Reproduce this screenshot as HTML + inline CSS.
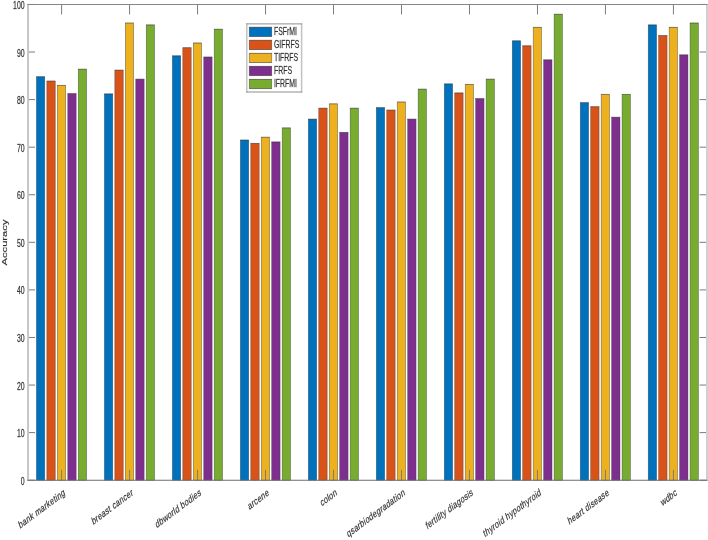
<!DOCTYPE html>
<html><head><meta charset="utf-8"><title>Accuracy</title>
<style>html,body{margin:0;padding:0;background:#fff}svg{display:block}</style></head>
<body>
<svg width="708" height="540" viewBox="0 0 708 540" font-family="Liberation Sans, Arial, Helvetica, sans-serif">
<rect width="708" height="540" fill="#fff"/>
<rect x="36.40" y="76.76" width="8.37" height="403.44" fill="#0072BD" stroke="#3a3a3a" stroke-opacity="0.7" stroke-width="0.55"/>
<path d="M36.20 76.76h8.77" stroke="#222" stroke-opacity="0.35" stroke-width="0.7"/>
<rect x="46.86" y="81.05" width="8.37" height="399.15" fill="#D95319" stroke="#3a3a3a" stroke-opacity="0.7" stroke-width="0.55"/>
<path d="M46.66 81.05h8.77" stroke="#222" stroke-opacity="0.35" stroke-width="0.7"/>
<rect x="57.32" y="85.33" width="8.37" height="394.87" fill="#EDB120" stroke="#3a3a3a" stroke-opacity="0.7" stroke-width="0.55"/>
<path d="M57.12 85.33h8.77" stroke="#222" stroke-opacity="0.35" stroke-width="0.7"/>
<rect x="67.78" y="93.65" width="8.37" height="386.55" fill="#7E2F8E" stroke="#3a3a3a" stroke-opacity="0.7" stroke-width="0.55"/>
<path d="M67.58 93.65h8.77" stroke="#222" stroke-opacity="0.35" stroke-width="0.7"/>
<rect x="78.23" y="69.15" width="8.37" height="411.05" fill="#77AC30" stroke="#3a3a3a" stroke-opacity="0.7" stroke-width="0.55"/>
<path d="M78.03 69.15h8.77" stroke="#222" stroke-opacity="0.35" stroke-width="0.7"/>
<rect x="104.38" y="93.89" width="8.37" height="386.31" fill="#0072BD" stroke="#3a3a3a" stroke-opacity="0.7" stroke-width="0.55"/>
<path d="M104.18 93.89h8.77" stroke="#222" stroke-opacity="0.35" stroke-width="0.7"/>
<rect x="114.84" y="70.10" width="8.37" height="410.10" fill="#D95319" stroke="#3a3a3a" stroke-opacity="0.7" stroke-width="0.55"/>
<path d="M114.64 70.10h8.77" stroke="#222" stroke-opacity="0.35" stroke-width="0.7"/>
<rect x="125.30" y="23.00" width="8.37" height="457.20" fill="#EDB120" stroke="#3a3a3a" stroke-opacity="0.7" stroke-width="0.55"/>
<path d="M125.10 23.00h8.77" stroke="#222" stroke-opacity="0.35" stroke-width="0.7"/>
<rect x="135.76" y="79.14" width="8.37" height="401.06" fill="#7E2F8E" stroke="#3a3a3a" stroke-opacity="0.7" stroke-width="0.55"/>
<path d="M135.56 79.14h8.77" stroke="#222" stroke-opacity="0.35" stroke-width="0.7"/>
<rect x="146.21" y="24.91" width="8.37" height="455.29" fill="#77AC30" stroke="#3a3a3a" stroke-opacity="0.7" stroke-width="0.55"/>
<path d="M146.01 24.91h8.77" stroke="#222" stroke-opacity="0.35" stroke-width="0.7"/>
<rect x="172.36" y="55.83" width="8.37" height="424.37" fill="#0072BD" stroke="#3a3a3a" stroke-opacity="0.7" stroke-width="0.55"/>
<path d="M172.16 55.83h8.77" stroke="#222" stroke-opacity="0.35" stroke-width="0.7"/>
<rect x="182.82" y="47.74" width="8.37" height="432.46" fill="#D95319" stroke="#3a3a3a" stroke-opacity="0.7" stroke-width="0.55"/>
<path d="M182.62 47.74h8.77" stroke="#222" stroke-opacity="0.35" stroke-width="0.7"/>
<rect x="193.28" y="42.99" width="8.37" height="437.21" fill="#EDB120" stroke="#3a3a3a" stroke-opacity="0.7" stroke-width="0.55"/>
<path d="M193.08 42.99h8.77" stroke="#222" stroke-opacity="0.35" stroke-width="0.7"/>
<rect x="203.74" y="57.02" width="8.37" height="423.18" fill="#7E2F8E" stroke="#3a3a3a" stroke-opacity="0.7" stroke-width="0.55"/>
<path d="M203.54 57.02h8.77" stroke="#222" stroke-opacity="0.35" stroke-width="0.7"/>
<rect x="214.19" y="29.19" width="8.37" height="451.01" fill="#77AC30" stroke="#3a3a3a" stroke-opacity="0.7" stroke-width="0.55"/>
<path d="M213.99 29.19h8.77" stroke="#222" stroke-opacity="0.35" stroke-width="0.7"/>
<rect x="240.34" y="140.04" width="8.37" height="340.16" fill="#0072BD" stroke="#3a3a3a" stroke-opacity="0.7" stroke-width="0.55"/>
<path d="M240.14 140.04h8.77" stroke="#222" stroke-opacity="0.35" stroke-width="0.7"/>
<rect x="250.80" y="143.37" width="8.37" height="336.83" fill="#D95319" stroke="#3a3a3a" stroke-opacity="0.7" stroke-width="0.55"/>
<path d="M250.60 143.37h8.77" stroke="#222" stroke-opacity="0.35" stroke-width="0.7"/>
<rect x="261.26" y="137.18" width="8.37" height="343.02" fill="#EDB120" stroke="#3a3a3a" stroke-opacity="0.7" stroke-width="0.55"/>
<path d="M261.06 137.18h8.77" stroke="#222" stroke-opacity="0.35" stroke-width="0.7"/>
<rect x="271.72" y="141.94" width="8.37" height="338.26" fill="#7E2F8E" stroke="#3a3a3a" stroke-opacity="0.7" stroke-width="0.55"/>
<path d="M271.52 141.94h8.77" stroke="#222" stroke-opacity="0.35" stroke-width="0.7"/>
<rect x="282.17" y="127.91" width="8.37" height="352.29" fill="#77AC30" stroke="#3a3a3a" stroke-opacity="0.7" stroke-width="0.55"/>
<path d="M281.97 127.91h8.77" stroke="#222" stroke-opacity="0.35" stroke-width="0.7"/>
<rect x="308.32" y="119.11" width="8.37" height="361.09" fill="#0072BD" stroke="#3a3a3a" stroke-opacity="0.7" stroke-width="0.55"/>
<path d="M308.12 119.11h8.77" stroke="#222" stroke-opacity="0.35" stroke-width="0.7"/>
<rect x="318.78" y="108.16" width="8.37" height="372.04" fill="#D95319" stroke="#3a3a3a" stroke-opacity="0.7" stroke-width="0.55"/>
<path d="M318.58 108.16h8.77" stroke="#222" stroke-opacity="0.35" stroke-width="0.7"/>
<rect x="329.24" y="103.88" width="8.37" height="376.32" fill="#EDB120" stroke="#3a3a3a" stroke-opacity="0.7" stroke-width="0.55"/>
<path d="M329.04 103.88h8.77" stroke="#222" stroke-opacity="0.35" stroke-width="0.7"/>
<rect x="339.70" y="132.43" width="8.37" height="347.77" fill="#7E2F8E" stroke="#3a3a3a" stroke-opacity="0.7" stroke-width="0.55"/>
<path d="M339.50 132.43h8.77" stroke="#222" stroke-opacity="0.35" stroke-width="0.7"/>
<rect x="350.15" y="108.16" width="8.37" height="372.04" fill="#77AC30" stroke="#3a3a3a" stroke-opacity="0.7" stroke-width="0.55"/>
<path d="M349.95 108.16h8.77" stroke="#222" stroke-opacity="0.35" stroke-width="0.7"/>
<rect x="376.30" y="107.69" width="8.37" height="372.51" fill="#0072BD" stroke="#3a3a3a" stroke-opacity="0.7" stroke-width="0.55"/>
<path d="M376.10 107.69h8.77" stroke="#222" stroke-opacity="0.35" stroke-width="0.7"/>
<rect x="386.76" y="110.07" width="8.37" height="370.13" fill="#D95319" stroke="#3a3a3a" stroke-opacity="0.7" stroke-width="0.55"/>
<path d="M386.56 110.07h8.77" stroke="#222" stroke-opacity="0.35" stroke-width="0.7"/>
<rect x="397.22" y="101.98" width="8.37" height="378.22" fill="#EDB120" stroke="#3a3a3a" stroke-opacity="0.7" stroke-width="0.55"/>
<path d="M397.02 101.98h8.77" stroke="#222" stroke-opacity="0.35" stroke-width="0.7"/>
<rect x="407.68" y="119.11" width="8.37" height="361.09" fill="#7E2F8E" stroke="#3a3a3a" stroke-opacity="0.7" stroke-width="0.55"/>
<path d="M407.48 119.11h8.77" stroke="#222" stroke-opacity="0.35" stroke-width="0.7"/>
<rect x="418.13" y="89.13" width="8.37" height="391.07" fill="#77AC30" stroke="#3a3a3a" stroke-opacity="0.7" stroke-width="0.55"/>
<path d="M417.93 89.13h8.77" stroke="#222" stroke-opacity="0.35" stroke-width="0.7"/>
<rect x="444.28" y="83.90" width="8.37" height="396.30" fill="#0072BD" stroke="#3a3a3a" stroke-opacity="0.7" stroke-width="0.55"/>
<path d="M444.08 83.90h8.77" stroke="#222" stroke-opacity="0.35" stroke-width="0.7"/>
<rect x="454.74" y="92.94" width="8.37" height="387.26" fill="#D95319" stroke="#3a3a3a" stroke-opacity="0.7" stroke-width="0.55"/>
<path d="M454.54 92.94h8.77" stroke="#222" stroke-opacity="0.35" stroke-width="0.7"/>
<rect x="465.20" y="84.38" width="8.37" height="395.82" fill="#EDB120" stroke="#3a3a3a" stroke-opacity="0.7" stroke-width="0.55"/>
<path d="M465.00 84.38h8.77" stroke="#222" stroke-opacity="0.35" stroke-width="0.7"/>
<rect x="475.66" y="98.65" width="8.37" height="381.55" fill="#7E2F8E" stroke="#3a3a3a" stroke-opacity="0.7" stroke-width="0.55"/>
<path d="M475.46 98.65h8.77" stroke="#222" stroke-opacity="0.35" stroke-width="0.7"/>
<rect x="486.11" y="79.14" width="8.37" height="401.06" fill="#77AC30" stroke="#3a3a3a" stroke-opacity="0.7" stroke-width="0.55"/>
<path d="M485.91 79.14h8.77" stroke="#222" stroke-opacity="0.35" stroke-width="0.7"/>
<rect x="512.26" y="40.84" width="8.37" height="439.36" fill="#0072BD" stroke="#3a3a3a" stroke-opacity="0.7" stroke-width="0.55"/>
<path d="M512.06 40.84h8.77" stroke="#222" stroke-opacity="0.35" stroke-width="0.7"/>
<rect x="522.72" y="45.84" width="8.37" height="434.36" fill="#D95319" stroke="#3a3a3a" stroke-opacity="0.7" stroke-width="0.55"/>
<path d="M522.52 45.84h8.77" stroke="#222" stroke-opacity="0.35" stroke-width="0.7"/>
<rect x="533.18" y="27.29" width="8.37" height="452.91" fill="#EDB120" stroke="#3a3a3a" stroke-opacity="0.7" stroke-width="0.55"/>
<path d="M532.98 27.29h8.77" stroke="#222" stroke-opacity="0.35" stroke-width="0.7"/>
<rect x="543.64" y="59.87" width="8.37" height="420.33" fill="#7E2F8E" stroke="#3a3a3a" stroke-opacity="0.7" stroke-width="0.55"/>
<path d="M543.44 59.87h8.77" stroke="#222" stroke-opacity="0.35" stroke-width="0.7"/>
<rect x="554.09" y="14.20" width="8.37" height="466.00" fill="#77AC30" stroke="#3a3a3a" stroke-opacity="0.7" stroke-width="0.55"/>
<path d="M553.89 14.20h8.77" stroke="#222" stroke-opacity="0.35" stroke-width="0.7"/>
<rect x="580.24" y="102.69" width="8.37" height="377.51" fill="#0072BD" stroke="#3a3a3a" stroke-opacity="0.7" stroke-width="0.55"/>
<path d="M580.04 102.69h8.77" stroke="#222" stroke-opacity="0.35" stroke-width="0.7"/>
<rect x="590.70" y="106.74" width="8.37" height="373.46" fill="#D95319" stroke="#3a3a3a" stroke-opacity="0.7" stroke-width="0.55"/>
<path d="M590.50 106.74h8.77" stroke="#222" stroke-opacity="0.35" stroke-width="0.7"/>
<rect x="601.16" y="94.37" width="8.37" height="385.83" fill="#EDB120" stroke="#3a3a3a" stroke-opacity="0.7" stroke-width="0.55"/>
<path d="M600.96 94.37h8.77" stroke="#222" stroke-opacity="0.35" stroke-width="0.7"/>
<rect x="611.62" y="117.20" width="8.37" height="363.00" fill="#7E2F8E" stroke="#3a3a3a" stroke-opacity="0.7" stroke-width="0.55"/>
<path d="M611.42 117.20h8.77" stroke="#222" stroke-opacity="0.35" stroke-width="0.7"/>
<rect x="622.07" y="94.37" width="8.37" height="385.83" fill="#77AC30" stroke="#3a3a3a" stroke-opacity="0.7" stroke-width="0.55"/>
<path d="M621.87 94.37h8.77" stroke="#222" stroke-opacity="0.35" stroke-width="0.7"/>
<rect x="648.22" y="24.91" width="8.37" height="455.29" fill="#0072BD" stroke="#3a3a3a" stroke-opacity="0.7" stroke-width="0.55"/>
<path d="M648.02 24.91h8.77" stroke="#222" stroke-opacity="0.35" stroke-width="0.7"/>
<rect x="658.68" y="35.61" width="8.37" height="444.59" fill="#D95319" stroke="#3a3a3a" stroke-opacity="0.7" stroke-width="0.55"/>
<path d="M658.48 35.61h8.77" stroke="#222" stroke-opacity="0.35" stroke-width="0.7"/>
<rect x="669.14" y="27.29" width="8.37" height="452.91" fill="#EDB120" stroke="#3a3a3a" stroke-opacity="0.7" stroke-width="0.55"/>
<path d="M668.94 27.29h8.77" stroke="#222" stroke-opacity="0.35" stroke-width="0.7"/>
<rect x="679.60" y="54.88" width="8.37" height="425.32" fill="#7E2F8E" stroke="#3a3a3a" stroke-opacity="0.7" stroke-width="0.55"/>
<path d="M679.40 54.88h8.77" stroke="#222" stroke-opacity="0.35" stroke-width="0.7"/>
<rect x="690.05" y="23.00" width="8.37" height="457.20" fill="#77AC30" stroke="#3a3a3a" stroke-opacity="0.7" stroke-width="0.55"/>
<path d="M689.85 23.00h8.77" stroke="#222" stroke-opacity="0.35" stroke-width="0.7"/>
<g fill="none">
<path d="M61.60 480.2v-10.4M61.60 4.45v10.0" stroke="#7c7c7c" stroke-width="1"/>
<path d="M129.58 480.2v-10.4M129.58 4.45v10.0" stroke="#7c7c7c" stroke-width="1"/>
<path d="M197.56 480.2v-10.4M197.56 4.45v10.0" stroke="#7c7c7c" stroke-width="1"/>
<path d="M265.54 480.2v-10.4M265.54 4.45v10.0" stroke="#7c7c7c" stroke-width="1"/>
<path d="M333.52 480.2v-10.4M333.52 4.45v10.0" stroke="#7c7c7c" stroke-width="1"/>
<path d="M401.50 480.2v-10.4M401.50 4.45v10.0" stroke="#7c7c7c" stroke-width="1"/>
<path d="M469.48 480.2v-10.4M469.48 4.45v10.0" stroke="#7c7c7c" stroke-width="1"/>
<path d="M537.46 480.2v-10.4M537.46 4.45v10.0" stroke="#7c7c7c" stroke-width="1"/>
<path d="M605.44 480.2v-10.4M605.44 4.45v10.0" stroke="#7c7c7c" stroke-width="1"/>
<path d="M673.42 480.2v-10.4M673.42 4.45v10.0" stroke="#7c7c7c" stroke-width="1"/>
<path d="M28 480.20h7.0M706.6 480.20h-7.0" stroke="#7a7a7a" stroke-width="1"/>
<path d="M28 432.62h7.0M706.6 432.62h-7.0" stroke="#7a7a7a" stroke-width="1"/>
<path d="M28 385.05h7.0M706.6 385.05h-7.0" stroke="#7a7a7a" stroke-width="1"/>
<path d="M28 337.48h7.0M706.6 337.48h-7.0" stroke="#7a7a7a" stroke-width="1"/>
<path d="M28 289.90h7.0M706.6 289.90h-7.0" stroke="#7a7a7a" stroke-width="1"/>
<path d="M28 242.32h7.0M706.6 242.32h-7.0" stroke="#7a7a7a" stroke-width="1"/>
<path d="M28 194.75h7.0M706.6 194.75h-7.0" stroke="#7a7a7a" stroke-width="1"/>
<path d="M28 147.18h7.0M706.6 147.18h-7.0" stroke="#7a7a7a" stroke-width="1"/>
<path d="M28 99.60h7.0M706.6 99.60h-7.0" stroke="#7a7a7a" stroke-width="1"/>
<path d="M28 52.02h7.0M706.6 52.02h-7.0" stroke="#7a7a7a" stroke-width="1"/>
<path d="M28 4.45h7.0M706.6 4.45h-7.0" stroke="#7a7a7a" stroke-width="1"/>
<path d="M28.05 3.95V480.7" stroke="#c6c6c6" stroke-width="2"/>
<path d="M707 3.95V480.7" stroke="#d0d0d0" stroke-width="2"/>
<path d="M27.2 4.45H707.5" stroke="#858585" stroke-width="1.1"/>
<path d="M27.2 480.2H707.5" stroke="#6e6e6e" stroke-width="1.1"/>
</g>
<g fill="#262626" fill-opacity="0.95" stroke="#262626" stroke-opacity="0.6" stroke-width="0.3" font-size="10.2px">
<text transform="translate(24.60 484.70) scale(0.68 1)" text-anchor="end">0</text>
<text transform="translate(24.60 437.12) scale(0.68 1)" text-anchor="end">10</text>
<text transform="translate(24.60 389.55) scale(0.68 1)" text-anchor="end">20</text>
<text transform="translate(24.60 341.98) scale(0.68 1)" text-anchor="end">30</text>
<text transform="translate(24.60 294.40) scale(0.68 1)" text-anchor="end">40</text>
<text transform="translate(24.60 246.82) scale(0.68 1)" text-anchor="end">50</text>
<text transform="translate(24.60 199.25) scale(0.68 1)" text-anchor="end">60</text>
<text transform="translate(24.60 151.68) scale(0.68 1)" text-anchor="end">70</text>
<text transform="translate(24.60 104.10) scale(0.68 1)" text-anchor="end">80</text>
<text transform="translate(24.60 56.52) scale(0.68 1)" text-anchor="end">90</text>
<text transform="translate(24.60 8.95) scale(0.68 1)" text-anchor="end">100</text>
<text transform="translate(65.80 494.60) scale(0.68 1) rotate(-27)" text-anchor="end" font-size="10.4px" letter-spacing="0.32">bank marketing</text>
<text transform="translate(133.78 494.60) scale(0.68 1) rotate(-27)" text-anchor="end" font-size="10.4px" letter-spacing="0.32">breast cancer</text>
<text transform="translate(201.76 494.60) scale(0.68 1) rotate(-27)" text-anchor="end" font-size="10.4px" letter-spacing="0.32">dbworld bodies</text>
<text transform="translate(269.74 494.60) scale(0.68 1) rotate(-27)" text-anchor="end" font-size="10.4px" letter-spacing="0.32">arcene</text>
<text transform="translate(337.72 494.60) scale(0.68 1) rotate(-27)" text-anchor="end" font-size="10.4px" letter-spacing="0.32">colon</text>
<text transform="translate(405.70 494.60) scale(0.68 1) rotate(-27)" text-anchor="end" font-size="10.4px" letter-spacing="0.32">qsarbiodegradation</text>
<text transform="translate(473.68 494.60) scale(0.68 1) rotate(-27)" text-anchor="end" font-size="10.4px" letter-spacing="0.32">fertility diagosis</text>
<text transform="translate(541.66 494.60) scale(0.68 1) rotate(-27)" text-anchor="end" font-size="10.4px" letter-spacing="0.32">thyroid hypothyroid</text>
<text transform="translate(609.64 494.60) scale(0.68 1) rotate(-27)" text-anchor="end" font-size="10.4px" letter-spacing="0.32">heart disease</text>
<text transform="translate(677.62 494.60) scale(0.68 1) rotate(-27)" text-anchor="end" font-size="10.4px" letter-spacing="0.32">wdbc</text>
<text transform="translate(6.8 242.5) scale(0.68 1) rotate(-90)" text-anchor="middle" font-size="11.2px">Accuracy</text>
</g>
<rect x="246.8" y="23.9" width="54.80000000000001" height="68.1" fill="#fff"/>
<path d="M246.8 23.5V92.4M301.6 23.5V92.4" stroke="#c2c2c2" stroke-width="1.5" fill="none"/>
<path d="M246.10000000000002 23.9H302.3M246.10000000000002 92.0H302.3" stroke="#8e8e8e" stroke-width="1" fill="none"/>
<rect x="249.2" y="27.20" width="22.6" height="9.3" fill="#0072BD" stroke="#3a3a3a" stroke-opacity="0.7" stroke-width="0.55"/>
<path d="M249 27.20h23M249 36.50h23" stroke="#222" stroke-opacity="0.35" stroke-width="0.7"/>
<text transform="translate(273.9 35.20) scale(0.68 1)" font-size="10.2px" fill="#262626" fill-opacity="0.95" stroke="#262626" stroke-opacity="0.6" stroke-width="0.3">FSFrMI</text>
<rect x="249.2" y="40.23" width="22.6" height="9.3" fill="#D95319" stroke="#3a3a3a" stroke-opacity="0.7" stroke-width="0.55"/>
<path d="M249 40.23h23M249 49.53h23" stroke="#222" stroke-opacity="0.35" stroke-width="0.7"/>
<text transform="translate(273.9 48.23) scale(0.68 1)" font-size="10.2px" fill="#262626" fill-opacity="0.95" stroke="#262626" stroke-opacity="0.6" stroke-width="0.3">GIFRFS</text>
<rect x="249.2" y="53.26" width="22.6" height="9.3" fill="#EDB120" stroke="#3a3a3a" stroke-opacity="0.7" stroke-width="0.55"/>
<path d="M249 53.26h23M249 62.56h23" stroke="#222" stroke-opacity="0.35" stroke-width="0.7"/>
<text transform="translate(273.9 61.26) scale(0.68 1)" font-size="10.2px" fill="#262626" fill-opacity="0.95" stroke="#262626" stroke-opacity="0.6" stroke-width="0.3">TIFRFS</text>
<rect x="249.2" y="66.29" width="22.6" height="9.3" fill="#7E2F8E" stroke="#3a3a3a" stroke-opacity="0.7" stroke-width="0.55"/>
<path d="M249 66.29h23M249 75.59h23" stroke="#222" stroke-opacity="0.35" stroke-width="0.7"/>
<text transform="translate(273.9 74.29) scale(0.68 1)" font-size="10.2px" fill="#262626" fill-opacity="0.95" stroke="#262626" stroke-opacity="0.6" stroke-width="0.3">FRFS</text>
<rect x="249.2" y="79.32" width="22.6" height="9.3" fill="#77AC30" stroke="#3a3a3a" stroke-opacity="0.7" stroke-width="0.55"/>
<path d="M249 79.32h23M249 88.62h23" stroke="#222" stroke-opacity="0.35" stroke-width="0.7"/>
<text transform="translate(273.9 87.32) scale(0.68 1)" font-size="10.2px" fill="#262626" fill-opacity="0.95" stroke="#262626" stroke-opacity="0.6" stroke-width="0.3">IFRFMI</text>
</svg>
</body></html>
